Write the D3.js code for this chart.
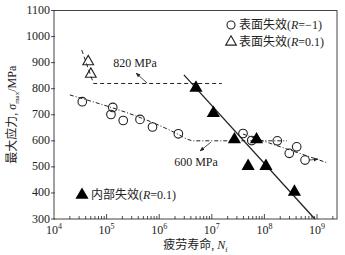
<!DOCTYPE html>
<html><head><meta charset="utf-8">
<script src="https://cdn.jsdelivr.net/npm/d3@7"></script>
<style>body{margin:0;background:#fff}svg{display:block}text{font-family:"Liberation Serif","Noto Sans CJK SC",serif;fill:#222}</style>
</head><body><svg id="c" width="345" height="255"></svg>
<script>
// ---- data ----
const xTickExps = [4, 5, 6, 7, 8, 9];
const yTicks = [300, 400, 500, 600, 700, 800, 900, 1000, 1100];
// surface failure R=-1 (open circles)
const circleN = [3.45e4, 1.31e5, 1.21e5, 2.07e5, 4.31e5, 7.46e5, 2.31e6, 3.92e7, 5.74e7, 1.76e8, 4.11e8, 2.97e8, 5.92e8];
const circleS = [750, 728, 701, 678, 682, 653, 627, 628, 601, 600, 577, 552, 526];
// surface failure R=0.1 (open triangles)
const openTriN = [4.47e4, 5.01e4];
const openTriS = [904, 856];
// internal failure R=0.1 (filled triangles)
const fillTriN = [5.0e6, 1.07e7, 2.69e7, 7.08e7, 4.9e7, 1.07e8, 3.72e8];
const fillTriS = [803, 706, 605, 605, 503, 503, 404];
// fitted curves
const fit820N = [3.37e4, 5.64e4, 1.55e7];
const fit820S = [948, 820, 820];
const fit600N = [2.0e4, 2.24e6, 3.55e6, 4.47e6, 2.69e8];
const fit600S = [776, 626, 605, 600, 600];
const fitSlopeN = [3.9e7, 1.55e9];
const fitSlopeS = [626, 516];
const fitIntN = [2.95e6, 9.1e8];
const fitIntS = [853, 300];

const svg = d3.select("#c");
const L = 54, R = 337, T = 10.5, B = 219;
const x = d3.scaleLog().domain([1e4, Math.pow(10, 9.38)]).range([L, R]);
const y = d3.scaleLinear().domain([300, 1100]).range([B, T]);
const ink = "#222";

// frame
svg.append("rect").attr("x", L).attr("y", T).attr("width", R - L).attr("height", B - T)
  .attr("fill", "none").attr("stroke", "#444").attr("stroke-width", 1);

// x minor/major ticks (inside)
const xt = [];
xTickExps.forEach(e => { for (let m = 1; m < 10; m++) { const v = m * Math.pow(10, e); if (v <= x.domain()[1] && v > 1e4) xt.push([v, m === 1]); } });
svg.selectAll(".xt").data(xt).enter().append("line")
  .attr("x1", d => x(d[0])).attr("x2", d => x(d[0]))
  .attr("y1", B).attr("y2", d => B - (d[1] ? 5 : 3))
  .attr("stroke", ink).attr("stroke-width", 0.8);
// x labels
const xl = svg.selectAll(".xl").data(xTickExps).enter().append("text")
  .attr("x", d => x(Math.pow(10, d))).attr("y", 234).attr("text-anchor", "middle").attr("font-size", 12);
xl.append("tspan").text("10");
xl.append("tspan").attr("dy", -5).attr("font-size", 8).text(d => d);

// y ticks
svg.selectAll(".yt").data(yTicks).enter().append("line")
  .attr("x1", L - 3).attr("x2", L + 1).attr("y1", d => y(d)).attr("y2", d => y(d))
  .attr("stroke", ink).attr("stroke-width", 0.8);
svg.selectAll(".yl").data(yTicks).enter().append("text")
  .attr("x", L - 4).attr("y", d => y(d) + 3.5).attr("text-anchor", "end").attr("font-size", 12).text(d => d);

// axis titles
const yt = svg.append("text").attr("transform", `translate(16,${(T + B) / 2}) rotate(-90)`)
  .attr("text-anchor", "middle").attr("font-size", 12);
yt.append("tspan").text("最大应力, ");
yt.append("tspan").attr("font-style", "italic").text("σ");
yt.append("tspan").attr("dy", 3).attr("font-size", 7).text("max");
yt.append("tspan").attr("dy", -3).text("/MPa");
const xtt = svg.append("text").attr("x", (L + R) / 2).attr("y", 249).attr("text-anchor", "middle").attr("font-size", 12);
xtt.append("tspan").text("疲劳寿命, ");
xtt.append("tspan").attr("font-style", "italic").text("N");
xtt.append("tspan").attr("dy", 3).attr("font-size", 7).text("f");

// curves
const line = d3.line().x(d => x(d[0])).y(d => y(d[1]));
const zip = (a, b) => a.map((v, i) => [v, b[i]]);
svg.append("path").attr("d", line(zip(fit820N, fit820S))).attr("fill", "none")
  .attr("stroke", ink).attr("stroke-width", 1).attr("stroke-dasharray", "4,3");
svg.append("path").attr("d", line.curve(d3.curveMonotoneX)(zip(fit600N, fit600S))).attr("fill", "none")
  .attr("stroke", ink).attr("stroke-width", 1).attr("stroke-dasharray", "4,2,1,2");
line.curve(d3.curveLinear);
svg.append("path").attr("d", line(zip(fitSlopeN, fitSlopeS))).attr("fill", "none")
  .attr("stroke", ink).attr("stroke-width", 1).attr("stroke-dasharray", "4,2,1,2");
svg.append("path").attr("d", line(zip(fitIntN, fitIntS))).attr("fill", "none")
  .attr("stroke", ink).attr("stroke-width", 1.3);

// arrowhead marker
svg.append("defs").append("marker").attr("id", "ah").attr("viewBox", "0 0 10 10")
  .attr("refX", 9).attr("refY", 5).attr("markerWidth", 6).attr("markerHeight", 6).attr("orient", "auto")
  .append("path").attr("d", "M0,1 L10,5 L0,9 z").attr("fill", ink);

// annotations
svg.append("text").attr("x", x(3.47e5)).attr("y", y(899) + 4).attr("text-anchor", "middle").attr("font-size", 12).text("820 MPa");
svg.append("line").attr("x1", x(Math.pow(10, 5.768))).attr("y1", y(822)).attr("x2", x(Math.pow(10, 5.559))).attr("y2", y(860))
  .attr("stroke", ink).attr("stroke-width", 0.8).attr("marker-end", "url(#ah)");
svg.append("text").attr("x", x(Math.pow(10, 6.70))).attr("y", y(519) + 4).attr("text-anchor", "middle").attr("font-size", 12).text("600 MPa");
svg.append("line").attr("x1", x(Math.pow(10, 6.985))).attr("y1", y(595)).attr("x2", x(Math.pow(10, 6.776))).attr("y2", y(561))
  .attr("stroke", ink).attr("stroke-width", 0.8).attr("marker-end", "url(#ah)");

// runout arrow on last circle
const lastI = circleN.length - 1;
svg.append("line").attr("x1", x(circleN[lastI]) + 4).attr("y1", y(circleS[lastI])).attr("x2", x(circleN[lastI]) + 13).attr("y2", y(circleS[lastI]) - 1)
  .attr("stroke", ink).attr("stroke-width", 0.8).attr("marker-end", "url(#ah)");

// markers
const tri = (s) => d3.symbol().type(d3.symbolTriangle).size(s)();
svg.selectAll(".c").data(zip(circleN, circleS)).enter().append("circle")
  .attr("cx", d => x(d[0])).attr("cy", d => y(d[1])).attr("r", 4.3)
  .attr("fill", "#fff").attr("fill-opacity", 0).attr("stroke", ink).attr("stroke-width", 1.1);
svg.selectAll(".ot").data(zip(openTriN, openTriS)).enter().append("path")
  .attr("d", tri(50)).attr("transform", d => `translate(${x(d[0])},${y(d[1])})`)
  .attr("fill", "none").attr("stroke", ink).attr("stroke-width", 1.1);
svg.selectAll(".ft").data(zip(fillTriN, fillTriS)).enter().append("path")
  .attr("d", tri(75)).attr("transform", d => `translate(${x(d[0])},${y(d[1])})`)
  .attr("fill", "#000");

// legends
const lg = [[231, 25, "c", "(R=−1)"], [231, 42, "o", "(R=0.1)"]];
lg.forEach(([lx, ly, k, suf]) => {
  if (k === "c") svg.append("circle").attr("cx", lx).attr("cy", ly).attr("r", 4).attr("fill", "none").attr("stroke", ink).attr("stroke-width", 1.1);
  else svg.append("path").attr("d", tri(50)).attr("transform", `translate(${lx},${ly})`).attr("fill", "none").attr("stroke", ink).attr("stroke-width", 1.1);
  const t = svg.append("text").attr("x", lx + 8).attr("y", ly + 4).attr("font-size", 12);
  t.append("tspan").text("表面失效(");
  t.append("tspan").attr("font-style", "italic").text("R");
  t.append("tspan").text(suf.slice(2));
});
svg.append("path").attr("d", tri(75)).attr("transform", `translate(82,195)`).attr("fill", "#000");
const t3 = svg.append("text").attr("x", 91).attr("y", 199).attr("font-size", 12);
t3.append("tspan").text("内部失效(");
t3.append("tspan").attr("font-style", "italic").text("R");
t3.append("tspan").text("=0.1)");
</script></body></html>
